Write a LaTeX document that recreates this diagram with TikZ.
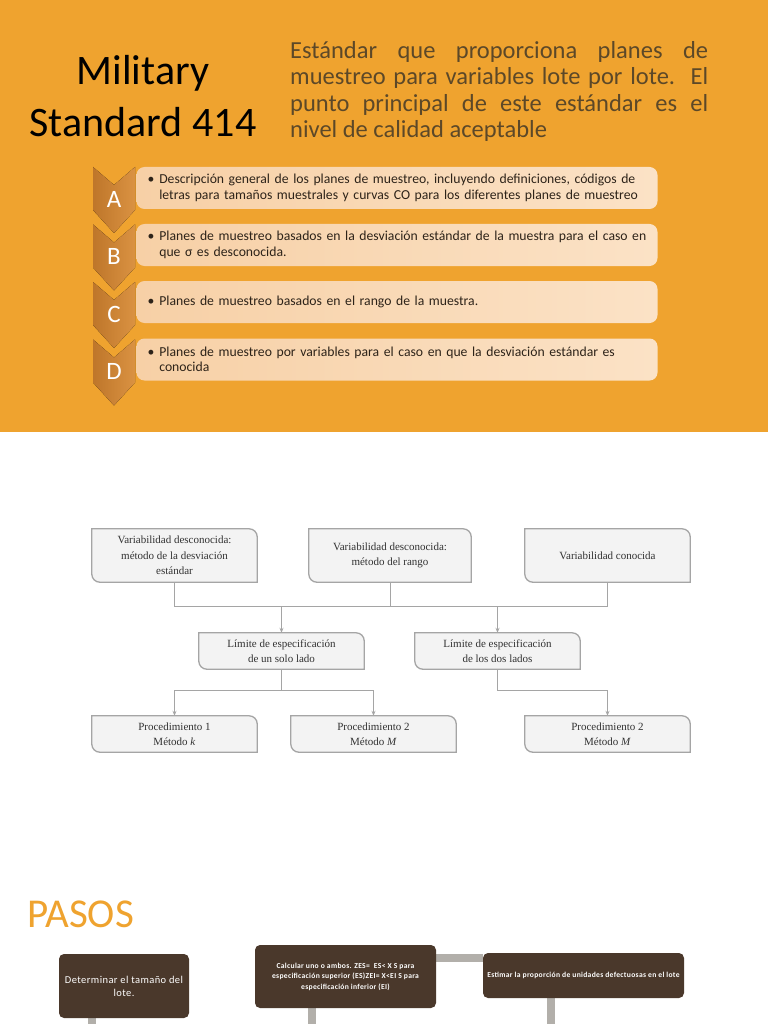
\documentclass[tikz,border=0pt]{standalone}
\usepackage{fontspec}
\setmainfont{Carlito}
\newfontfamily\flowfont{Liberation Serif}
\newfontfamily\stepfont[LetterSpace=4]{Carlito}
\usetikzlibrary{arrows.meta}
\pgfdeclarelayer{bg}
\pgfdeclarelayer{mid}
\pgfsetlayers{bg,mid,main}
\definecolor{orangebg}{RGB}{239,163,47}
\definecolor{chevdark}{RGB}{190,118,42}
\definecolor{chevlight}{RGB}{218,146,66}
\definecolor{peachL}{RGB}{247,208,166}
\definecolor{peachR}{RGB}{251,226,198}
\definecolor{bodytext}{RGB}{92,72,40}
\definecolor{itemtext}{RGB}{45,35,25}
\definecolor{flowfill}{RGB}{243,243,243}
\definecolor{flowline}{RGB}{165,165,165}
\definecolor{flowtextcol}{RGB}{50,50,50}
\definecolor{stepbrown}{RGB}{74,56,43}
\definecolor{stepgray}{RGB}{178,175,170}
\newcommand\diagshape[1]{%
  \path[flowbox] (#1.north west) -- ([xshift=-8pt]#1.north east)
    arc[start angle=90,end angle=0,radius=8pt] -- (#1.south east)
    -- ([xshift=8pt]#1.south west) arc[start angle=270,end angle=180,radius=8pt] -- cycle;}
\newcommand\itemlines[1]{\textbullet\hspace{5pt}\parbox[t]{505pt}{\raggedright #1}}
\begin{document}
\begin{tikzpicture}[x=1pt,y=-1pt,
  titletext/.style={font=\fontsize{42}{52}\selectfont, align=center, text=black, inner sep=0},
  desctext/.style={font=\fontsize{24.5}{26.5}\selectfont, text width=418pt, align=justify, text=bodytext, inner sep=0, anchor=north west},
  chev/.style={left color=chevdark, right color=chevlight},
  chevletter/.style={font=\fontsize{25}{25}\selectfont, text=white, inner sep=0},
  itembox/.style={rounded corners=8pt, left color=peachL, right color=peachR, minimum width=521pt, minimum height=42pt, text width=499pt, inner xsep=11pt, inner ysep=0pt, align=left, font=\fontsize{13.7}{15.5}\selectfont, text=itemtext},
  flownode/.style={font=\flowfont\fontsize{11}{15.5}\selectfont, align=center, text=flowtextcol, inner sep=0},
  flowbox/.style={draw=flowline, line width=1.3pt, fill=flowfill},
  flowlink/.style={draw=flowline, line width=0.9pt},
  flowarrow/.style={draw=flowline, line width=0.9pt, -{Stealth[length=5pt,width=4pt]}},
  stepnode/.style={fill=stepbrown, rounded corners=5pt, text=white, align=center, inner sep=2pt},
  steplink/.style={draw=stepgray, line width=8pt},
  pasos/.style={font=\fontsize{41}{41}\selectfont, text=orangebg, inner sep=0, anchor=west}]
\useasboundingbox (0,0) rectangle (768,1024);
\begin{pgfonlayer}{bg}
\fill[white] (0,0) rectangle (768,1024);
\fill[orangebg] (0,0) rectangle (768,432);
\end{pgfonlayer}

% header
\node[titletext] (title) at (143,96) {Military\\Standard 414};
\node[desctext] (desc) at (290,41) {Estándar que proporciona planes de\linebreak muestreo para variables lote por lote.\ \ El\linebreak punto principal de este estándar es el\linebreak nivel de calidad aceptable};

% chevrons
\foreach \i/\L in {0/A,1/B,2/C,3/D}{
  \pgfmathsetmacro\yt{167+57.5*\i}
  \fill[chev] (93,\yt) -- (114,\yt+18) -- (135,\yt) -- (135,\yt+43) -- (114,\yt+66) -- (93,\yt+43) -- cycle;
  \node[chevletter] (ch\L) at (114,\yt+32) {\L};
}

% item boxes
\node[itembox] (bA) at (397,188) {\itemlines{Descripción general de los planes de muestreo, incluyendo definiciones, códigos de\\letras para tamaños muestrales y curvas CO para los diferentes planes de muestreo}};
\node[itembox] (bB) at (397,245) {\itemlines{Planes de muestreo basados en la desviación estándar de la muestra para el caso en\\que σ es desconocida.}};
\node[itembox] (bC) at (397,302) {\itemlines{Planes de muestreo basados en el rango de la muestra.}};
\node[itembox] (bD) at (397,359.5) {\itemlines{Planes de muestreo por variables para el caso en que la desviación estándar es\\conocida}};

% flowchart
\node[flownode, minimum width=165pt, minimum height=53pt] (v1) at (174.5,555.5) {Variabilidad desconocida:\\método de la desviación\\estándar};
\node[flownode, minimum width=162pt, minimum height=53pt] (v2) at (390,555.5) {Variabilidad desconocida:\\método del rango};
\node[flownode, minimum width=165pt, minimum height=53pt] (v3) at (607.5,555.5) {Variabilidad conocida};
\node[flownode, minimum width=165pt, minimum height=36pt] (l1) at (281.5,651) {Límite de especificación\\de un solo lado};
\node[flownode, minimum width=165pt, minimum height=36pt] (l2) at (497.5,651) {Límite de especificación\\de los dos lados};
\node[flownode, minimum width=165pt, minimum height=36pt] (p1) at (174.5,734) {Procedimiento 1\\Método \textit{k}};
\node[flownode, minimum width=165pt, minimum height=36pt] (p2) at (373.5,734) {Procedimiento 2\\Método \textit{M}};
\node[flownode, minimum width=165pt, minimum height=36pt] (p3) at (607.5,734) {Procedimiento 2\\Método \textit{M}};
\begin{pgfonlayer}{mid}
\foreach \n in {v1,v2,v3,l1,l2,p1,p2,p3}{\diagshape{\n}}
\end{pgfonlayer}
\coordinate (hT) at (0,606);
\coordinate (hB) at (0,690);
\draw[flowlink] (v1.south) -- (v1.south |- hT) -- (v3.south |- hT) -- (v3.south);
\draw[flowlink] (v2.south) -- (v2.south |- hT);
\draw[flowarrow] (l1.north |- hT) -- (l1.north);
\draw[flowarrow] (l2.north |- hT) -- (l2.north);
\draw[flowlink] (l1.south) -- (l1.south |- hB);
\draw[flowlink] (p1.north |- hB) -- (p2.north |- hB);
\draw[flowarrow] (p1.north |- hB) -- (p1.north);
\draw[flowarrow] (p2.north |- hB) -- (p2.north);
\draw[flowlink] (l2.south) -- (l2.south |- hB) -- (p3.north |- hB);
\draw[flowarrow] (p3.north |- hB) -- (p3.north);

% pasos
\node[pasos] (pasos) at (27,914) {PASOS};
\node[stepnode, minimum width=130pt, minimum height=64pt, font=\stepfont\fontsize{10.5}{13}\selectfont] (det) at (124,986) {Determinar el tamaño del\\lote.};
\node[stepnode, minimum width=181pt, minimum height=63pt, font=\stepfont\bfseries\fontsize{7.6}{10.5}\selectfont] (calc) at (345.5,976.5) {Calcular uno o ambos. ZES=\ \ ES< X S para\\especificación superior (ES)ZEI= X<EI S para\\especificación inferior (EI)};
\node[stepnode, minimum width=201pt, minimum height=45pt, font=\stepfont\bfseries\fontsize{7.6}{10.5}\selectfont] (est) at (583.5,975.5) {Estimar la proporción de unidades defectuosas en el lote};
\coordinate (lk) at (0,958);
\coordinate (dEnd) at (92,1024);
\coordinate (cEnd) at (312,1024);
\coordinate (eEnd) at (551,1024);
\begin{pgfonlayer}{bg}
\draw[steplink] (calc.east |- lk) -- (est.west |- lk);
\draw[steplink] (det.south -| dEnd) -- (dEnd);
\draw[steplink] (calc.south -| cEnd) -- (cEnd);
\draw[steplink] (est.south -| eEnd) -- (eEnd);
\end{pgfonlayer}
\end{tikzpicture}
\end{document}
